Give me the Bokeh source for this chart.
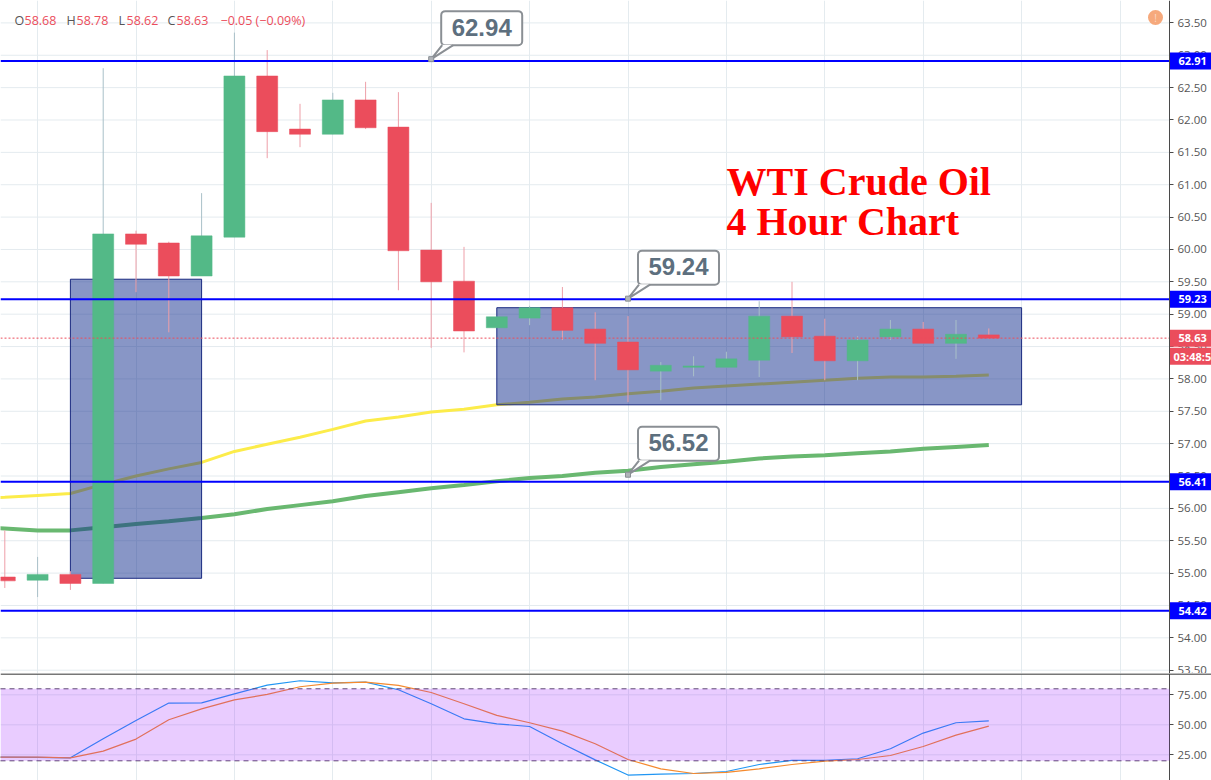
from bokeh.plotting import figure
from bokeh.models import (Label, Span, FixedTicker, NumeralTickFormatter, BoxAnnotation, ColumnDataSource, Range1d)
from bokeh.layouts import column
from bokeh.embed import file_html
from bokeh.resources import INLINE

# ---------- data ----------
opens  = [54.94,54.89,54.98,54.84,60.24,60.10,59.59,60.19,62.68,61.86,61.78,62.31,61.89,59.99,59.51,58.79,58.94,59.10,58.77,58.57,58.12,58.18,58.18,58.29,58.97,58.66,58.28,58.65,58.77,58.55,58.68]
closes = [54.88,54.98,54.84,60.24,60.08,59.59,60.21,62.68,61.82,61.78,62.31,61.88,59.98,59.50,58.74,58.96,59.10,58.75,58.55,58.14,58.21,58.20,58.31,58.97,58.65,58.28,58.60,58.77,58.55,58.69,58.63]
highs  = [55.66,55.25,55.03,62.80,60.29,60.12,60.87,63.35,63.08,62.25,62.42,62.59,62.43,60.72,60.04,58.96,59.13,59.42,59.03,58.97,58.26,58.35,58.42,59.20,59.50,58.93,58.66,58.91,58.88,58.91,58.78]
lows   = [54.77,54.63,54.74,54.84,59.34,58.72,59.59,60.19,61.41,61.58,61.78,61.86,59.37,58.48,58.41,58.79,58.83,58.60,57.98,57.64,57.67,58.04,58.18,58.03,58.40,57.98,57.98,58.60,58.55,58.31,58.62]
# indicator series start one bar before the first visible candle
ma_yellow = [56.16,56.17,56.20,56.23,56.37,56.50,56.61,56.71,56.88,56.99,57.10,57.22,57.35,57.41,57.49,57.53,57.60,57.64,57.69,57.72,57.77,57.81,57.86,57.89,57.92,57.95,57.98,58.01,58.03,58.03,58.04,58.06]
ma_green  = [55.70,55.69,55.66,55.66,55.71,55.76,55.80,55.85,55.91,55.99,56.05,56.11,56.19,56.25,56.31,56.36,56.42,56.47,56.50,56.55,56.58,56.64,56.68,56.72,56.77,56.80,56.82,56.85,56.88,56.92,56.95,56.98]
stoch_k = [23.2,23.1,22.8,22.5,38.3,53.6,68.1,68.3,75.8,83.1,86.7,85.0,85.6,79.2,67.5,55.0,50.8,48.6,34.2,20.8,8.1,8.9,9.4,11.1,16.9,20.3,20.3,21.7,30.0,43.1,51.7,53.3]
stoch_d = [23.2,23.1,23.1,22.5,28.1,38.1,54.2,63.3,70.8,75.3,81.7,84.7,85.6,82.8,76.9,67.5,57.8,51.7,44.7,34.2,21.1,13.3,9.4,10.3,13.3,16.9,19.7,21.1,24.4,31.9,41.4,48.9]
price_ticks = [53.5,54,54.5,55,55.5,56,56.5,57,57.5,58,58.5,59,59.5,60,60.5,61,61.5,62,62.5,63,63.5]
stoch_ticks = [25,50,75]
time_ticks = [1,4,7,10,13,16,19,22,25,28,31,34]
level_prices = [62.91,59.23,56.41,54.42]
last_price = 58.63
countdown = "03:48:5"
callout_vals = [62.94,59.24,56.52]
callout_bars = [13,19,19]
zone_left = [2,15]; zone_right = [6,31]; zone_top = [59.54,59.10]; zone_bottom = [54.92,57.60]
band_low, band_high = 20, 80
# ---------- layout ----------
BAR = 32.8; BAR0 = 4.3
PX = 64.73
x_axis = (1169-BAR0)/BAR
xr = ((0-BAR0)/BAR, (1211-BAR0)/BAR)
Y0 = 22.4
py2p = lambda y: 63.5-(y-Y0)/PX
GRID = "#e4ebef"; AX = "#4a4a4a"; RED="#eb4d5c"; GREEN="#53b987"; FONT="Open Sans"
idx = list(range(len(opens)))
idx_ind = [-1]+idx

def style(f, ticks):
    ax=f.yaxis[0]
    ax.fixed_location=x_axis
    ax.ticker=FixedTicker(ticks=ticks); ax.formatter=NumeralTickFormatter(format="0.00")
    ax.axis_line_color=AX; ax.major_tick_line_color=AX; ax.major_tick_out=4; ax.major_tick_in=0
    ax.minor_tick_line_color=None; ax.major_label_standoff=4
    ax.major_label_text_font=FONT; ax.major_label_text_font_size="11.5px"; ax.major_label_text_color="#555555"
    f.grid.visible=False
    f.segment(x0=[xr[0]]*len(ticks),x1=[x_axis]*len(ticks),y0=ticks,y1=ticks,line_color=GRID,line_width=1,level="underlay")
    f.vspan(x=time_ticks, line_color=GRID, line_width=1, level="underlay")

p = figure(width=1211, height=673, x_range=Range1d(*xr), y_range=Range1d(py2p(673),py2p(0)),
           output_backend="svg", toolbar_location=None, x_axis_location=None, y_axis_location="right",
           min_border_left=0,min_border_top=0,min_border_bottom=0,min_border_right=0, outline_line_color=None)
style(p, price_ticks)

# moving averages under zones
p.line(idx_ind, ma_yellow, line_color="#fcec4a", line_width=3)
p.line(idx_ind, ma_green, line_color="#69b870", line_width=4)
# zones
p.quad(left=zone_left,right=zone_right,top=zone_top,bottom=zone_bottom,fill_color="#112d8d",fill_alpha=0.5,line_color="#1a2a80",line_width=1)
# candles
colors=[GREEN if c>=o else RED for o,c in zip(opens,closes)]
wicks=["#a9c0c8" if c>=o else "#ee9fa8" for o,c in zip(opens,closes)]
src=ColumnDataSource(dict(x=idx,o=opens,c=closes,h=highs,l=lows,col=colors,w=wicks))
p.segment(x0="x",x1="x",y0="l",y1="h",line_color="w",line_width=1,source=src)
p.vbar(x="x",width=0.64,top="o",bottom="c",fill_color="col",line_color="col",line_width=0.5,source=src)

# levels
n=len(level_prices)
p.segment(x0=[xr[0]]*n,x1=[x_axis]*n,y0=level_prices,y1=level_prices,line_color="#0000ff",line_width=2)
p.segment(x0=[xr[0]],x1=[x_axis],y0=[last_price],y1=[last_price],line_color=RED,line_width=1,line_dash="2 2")

# callouts
for v,b in zip(callout_vals,callout_bars):
    ax=b; bx=lambda d: ax+d/BAR; by=lambda d: v+d/PX
    p.quad(left=[bx(10)],right=[bx(91)],bottom=[by(14)],top=[by(48)],fill_color="white",line_color="#8a8f94",line_width=2,border_radius=4)
    p.patch([bx(0),bx(11),bx(22)],[by(0),by(14.5),by(14.5)],fill_color="white",line_color=None)
    p.line([bx(11),bx(0),bx(22)],[by(14),by(0),by(14)],line_color="#8a8f94",line_width=2)
    p.scatter([ax],[v],marker="square",size=5,fill_color="#b0b4b8",line_color="#8a8f94")
    p.add_layout(Label(x=ax,y=v,x_offset=50.5,y_offset=32,text=f"{v:.2f}",text_align="center",text_baseline="middle",
                       text_font="Liberation Sans",text_font_style="bold",text_font_size="24px",text_color="#5d6f7e"))

def lab(text,px,py,color,size="13px",font=FONT,style_="normal",align="left"):
    p.add_layout(Label(x=px,y=673-py,x_units="screen",y_units="screen",text=text,text_color=color,text_font=font,
                       text_font_size=size,text_font_style=style_,text_align=align,text_baseline="middle"))
# title
lab("WTI Crude Oil",726,181,"#ff0000","40px","Liberation Serif","bold")
lab("4 Hour Chart",726,221,"#ff0000","40px","Liberation Serif","bold")
# header
for t,x,c in [("O",14,"#555"),("58.68",24,RED),("H",66,"#555"),("58.78",76,RED),("L",118,"#555"),("58.62",126,RED),("C",167,"#555"),("58.63",176,RED),("\u22120.05 (\u22120.09%)",220,RED)]:
    lab(t,x,20,c,"12.5px")
# alert dot
p.scatter([(1155-BAR0)/BAR],[py2p(17)],marker="circle",size=15,fill_color="#f6a97c",line_color=None)
lab("!",1155,17,"#fbd9c4","10px",align="center")

# price tags
def tag(text,v,bg,dy=0,xo=9):
    p.quad(left=[x_axis+0.5/BAR],right=[xr[1]],top=[v+(dy+8.5)/PX],bottom=[v+(dy-8.5)/PX],
           fill_color=bg,line_color=None,level="annotation")
    p.add_layout(Label(x=x_axis,y=v,x_offset=xo,y_offset=dy,text=text,text_color="white",text_font=FONT,text_font_style="bold",
            text_font_size="11px",text_baseline="middle",level="overlay"))
for v in level_prices:
    tag(f"{v:.2f}",v,"#0000ff")
tag(f"{last_price:.2f}",last_price,RED)
tag(countdown,last_price,RED,dy=-18,xo=4)

# stochastic pane
yk=lambda y: 50+(724.3-y)/1.2
q = figure(width=1211, height=107, x_range=p.x_range, y_range=Range1d(yk(780),yk(673)),
           output_backend="svg", toolbar_location=None, x_axis_location=None, y_axis_location="right",
           min_border_left=0,min_border_top=0,min_border_bottom=0,min_border_right=0, outline_line_color=None)
style(q, stoch_ticks)
q.line(idx_ind,stoch_k,line_color="#2196f3",line_width=1.2)
q.line(idx_ind,stoch_d,line_color="#f58a2e",line_width=1.2)
q.add_layout(BoxAnnotation(left=xr[0],right=x_axis,bottom=band_low,top=band_high,fill_color="#9915ff",fill_alpha=0.22,line_color=None))
q.segment(x0=[xr[0]]*2,x1=[x_axis]*2,y0=[band_low,band_high],y1=[band_low,band_high],line_color="#5a4a6a",line_width=1,line_dash="5 4",level="annotation")
q.add_layout(Span(location=yk(673.5),dimension="width",line_color=AX,line_width=1.5))

page=column(p,q,spacing=0)
open("out.html","w").write(file_html(page,INLINE))
